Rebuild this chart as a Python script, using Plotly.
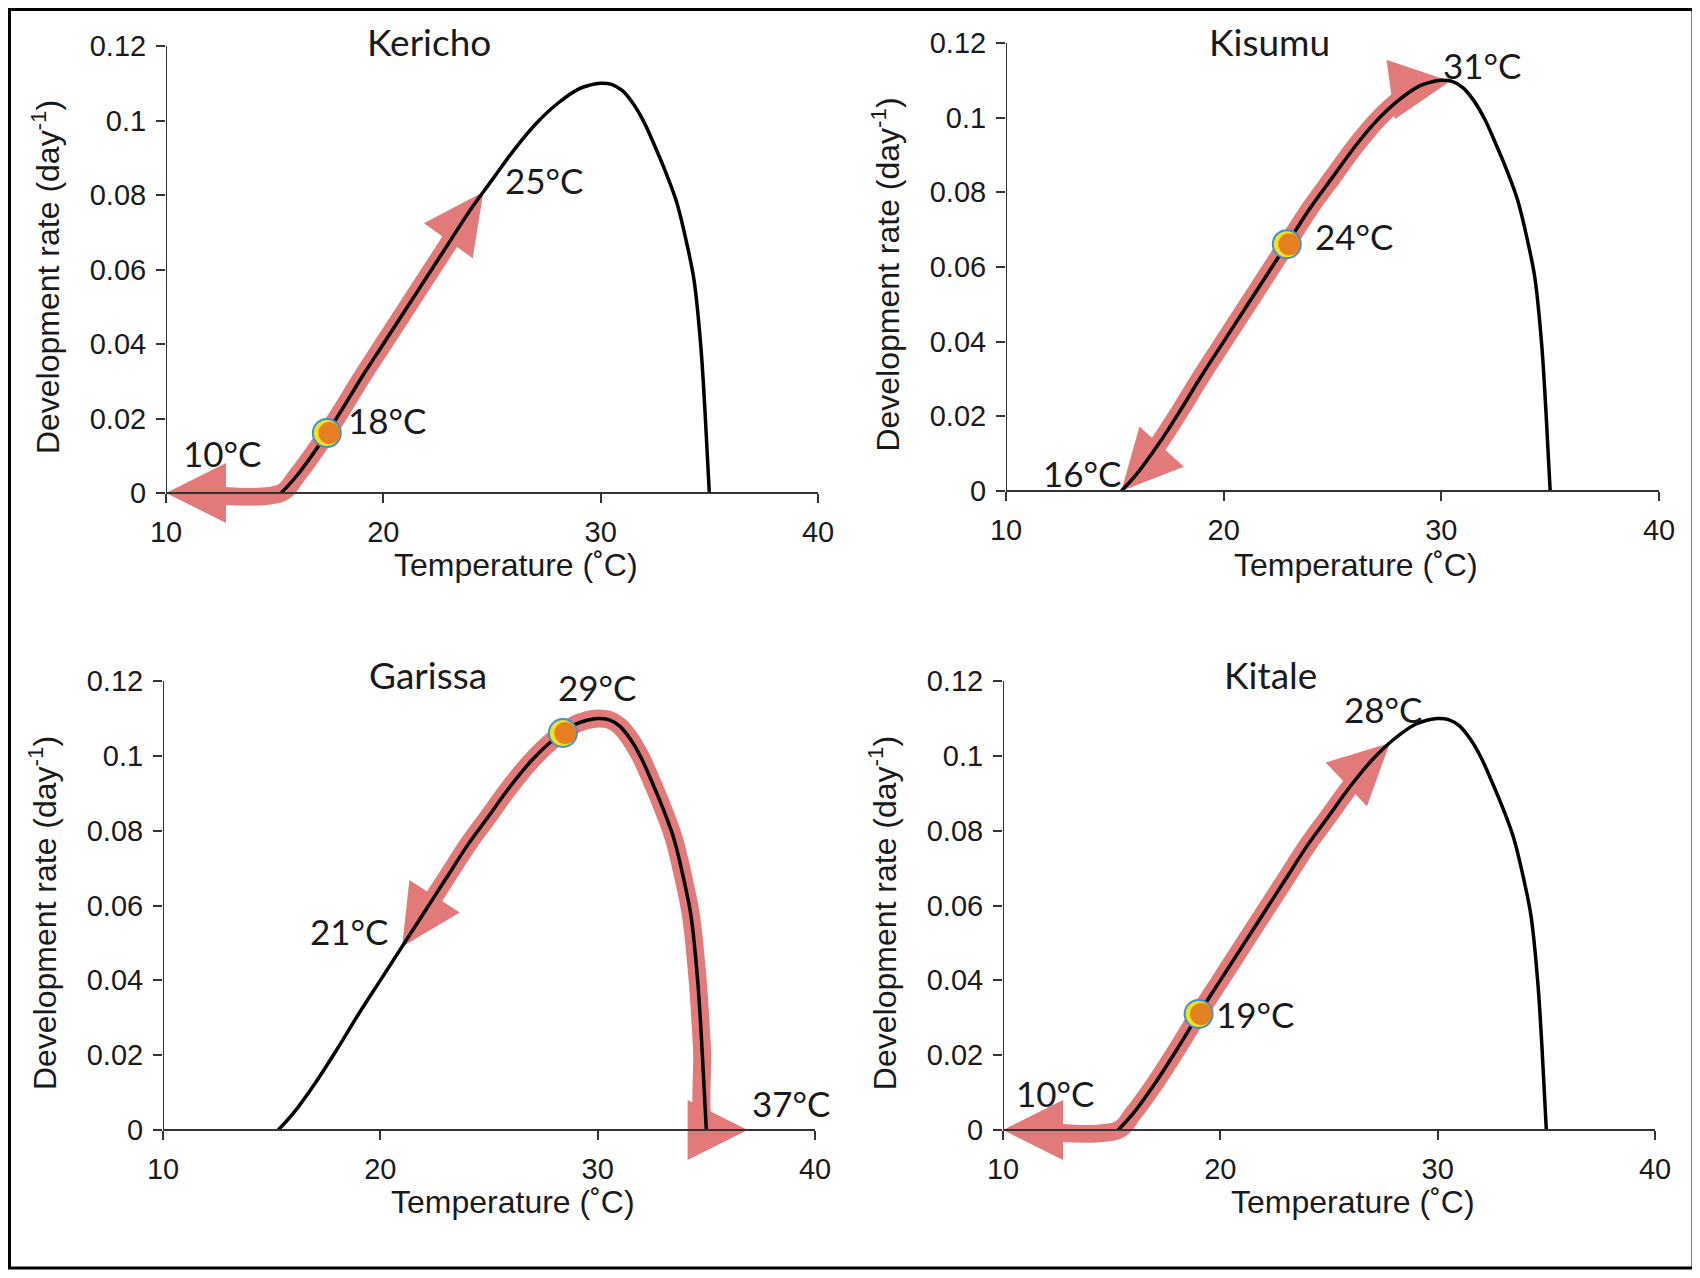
import numpy as np
import plotly.graph_objects as go

# development rate curve
temp = [15.3, 16, 17, 18, 19, 20, 21, 22, 23, 24, 25, 26, 27, 28, 29, 29.5,
        30, 30.5, 31, 31.5, 32, 32.5, 33, 33.5, 34, 34.3, 34.6, 34.8, 35]
rate = [0, 0.0045, 0.0125, 0.0215, 0.031, 0.040, 0.049, 0.058, 0.067, 0.076,
        0.084, 0.092, 0.099, 0.1045, 0.1085, 0.1095, 0.110, 0.1097, 0.108,
        0.1045, 0.0995, 0.093, 0.086, 0.078, 0.066, 0.057, 0.040, 0.022, 0]

sites = ['Kericho', 'Kisumu', 'Garissa', 'Kitale']
t_min = [10, 16, 21, 10]
t_mean = [18, 24, 29, 19]
t_max = [25, 31, 37, 28]

# hand drawn arrows: tip temperatures and where the shaft ends
tip_lo = [10.0, 15.3, 21.0, 10.0]
tip_hi = [24.6, 30.4, 36.9, 27.8]
shaft_lo = [11.0, 16.0, 21.6, 11.0]
shaft_hi = [23.9, 29.1, 35.8, 27.1]
dot_temp = [17.4, 22.9, 28.4, 19.0]

xticks = [10, 20, 30, 40]
yticks = [0, 0.02, 0.04, 0.06, 0.08, 0.1, 0.12]
yticktext = ['0', '0.02', '0.04', '0.06', '0.08', '0.1', '0.12']

W, H = 1700, 1278
OFF = 8  # page margin around the plot div
# panel placement in page pixels: left, right, y of zero, y of 0.12,
# site title y, axis title y
panels = [(166, 818, 493, 46, 41, 565), (1006, 1659, 491, 43, 41, 565),
          (163, 815, 1130, 681, 674, 1202), (1003, 1655, 1130, 681, 674, 1202)]
# label placement (data units): title x, min, mean, max
label_pos = [
    dict(title=22.1, lo=(12.6, 0.0108), mean=(20.2, 0.0195), hi=(27.4, 0.084)),
    dict(title=22.1, lo=(13.5, 0.0047), mean=(26.0, 0.0683), hi=(31.9, 0.114)),
    dict(title=22.2, lo=(18.6, 0.0533), mean=(30.0, 0.1183), hi=(38.9, 0.0072)),
    dict(title=22.3, lo=(12.4, 0.0099), mean=(21.6, 0.031), hi=(27.5, 0.1125)),
]
XTITLE_T = 26.1

BAND = '#E27A7A'
AXIS = '#333333'
TICKFONT = dict(family='Liberation Sans, Arial', size=29, color='#1a1a1a')
TITLEFONT = dict(family='Liberation Sans, Arial', size=32, color='#1a1a1a')
LABELFONT = dict(family='Lato, Open Sans', size=35, color='#1a1a1a')
SITEFONT = dict(family='Lato, Open Sans', size=37, color='#1a1a1a')
YPAD = 0.004


def px_x(p):
    return (p - OFF) / W


def px_y(p):
    return 1 - (p - OFF) / H


fig = go.Figure()
layout = {}
annotations = []
shapes = []

for i, site in enumerate(sites):
    sfx = '' if i == 0 else str(i + 1)
    xa, ya = 'x' + sfx, 'y' + sfx
    left, right, y0px, y12px, title_px, xtitle_px = panels[i]
    pxper = (y0px - y12px) / 0.12
    bottom_px = y0px + YPAD * pxper
    deg_px = (right - left) / 30.0

    layout['xaxis' + sfx] = dict(
        domain=[px_x(left), px_x(right)], range=[10, 40], anchor='free',
        position=px_y(y0px), tickvals=xticks, ticks='outside', ticklen=9,
        tickwidth=2, tickcolor=AXIS, showline=True, linecolor=AXIS,
        linewidth=2, showgrid=False, zeroline=False, tickfont=TICKFONT,
        ticklabelstandoff=4, automargin=False)
    layout['yaxis' + sfx] = dict(
        domain=[px_y(bottom_px), px_y(y12px)], range=[-YPAD, 0.12],
        anchor=xa, tickvals=yticks, ticktext=yticktext, ticks='outside',
        ticklen=9, tickwidth=2, tickcolor=AXIS, showline=False,
        showgrid=False, zeroline=False, tickfont=TICKFONT,
        ticklabelstandoff=4, automargin=False,
        title=dict(text='Development rate (day<sup>-1</sup>)', font=TITLEFONT,
                   standoff=20))
    # y axis line only from 0 up to 0.12
    shapes.append(dict(type='line', xref=xa, yref=ya, x0=10, x1=10, y0=0,
                       y1=0.12, line=dict(color=AXIS, width=2)))

    # red band following the curve between the two shaft ends
    lo, hi = shaft_lo[i], shaft_hi[i]
    bx = [lo] + [t for t in temp if lo < t < hi] + [hi]
    by = list(np.interp(bx, temp, rate))
    fig.add_trace(go.Scatter(
        x=bx, y=by, xaxis=xa, yaxis=ya, mode='lines', hoverinfo='skip',
        line=dict(color=BAND, width=18, shape='spline', smoothing=1.0)))
    # arrow heads, pointing from shaft end to tip
    for s, t in [(lo, tip_lo[i]), (hi, tip_hi[i])]:
        fig.add_trace(go.Scatter(
            x=[s, t], y=list(np.interp([s, t], temp, rate)), xaxis=xa,
            yaxis=ya, mode='markers', cliponaxis=False, hoverinfo='skip',
            marker=dict(symbol='arrow-up', size=[0, 60], color=BAND,
                        opacity=1, angleref='previous',
                        line=dict(width=0))))

    fig.add_trace(go.Scatter(
        x=temp, y=rate, xaxis=xa, yaxis=ya, mode='lines',
        line=dict(color='black', width=3.5, shape='spline', smoothing=1.0)))

    # dot: yellow disc with an orange disc slightly to the right on top
    dy = float(np.interp(dot_temp[i], temp, rate))
    fig.add_trace(go.Scatter(
        x=[dot_temp[i]], y=[dy], xaxis=xa, yaxis=ya, mode='markers',
        cliponaxis=False,
        marker=dict(size=28, color='#F2E21B',
                    line=dict(color='#3F8FD2', width=2))))
    fig.add_trace(go.Scatter(
        x=[dot_temp[i] + 2.5 / deg_px], y=[dy], xaxis=xa, yaxis=ya,
        mode='markers', cliponaxis=False,
        marker=dict(size=22, color='#E67E22', line=dict(width=0))))

    pos = label_pos[i]
    annotations.append(dict(xref=xa, yref='paper', x=pos['title'],
                            y=px_y(title_px), xanchor='center',
                            yanchor='middle', text=site, showarrow=False,
                            font=SITEFONT))
    annotations.append(dict(xref=xa, yref='paper', x=XTITLE_T,
                            y=px_y(xtitle_px), xanchor='center',
                            yanchor='middle', text='Temperature (˚C)',
                            showarrow=False, font=TITLEFONT))
    for key, val in [('lo', t_min[i]), ('mean', t_mean[i]), ('hi', t_max[i])]:
        annotations.append(dict(xref=xa, yref=ya, x=pos[key][0], y=pos[key][1],
                                xanchor='center', yanchor='middle',
                                text='%d°C' % val, showarrow=False,
                                font=LABELFONT))

# outer frame
shapes.append(dict(type='rect', xref='paper', yref='paper', x0=1.5 / W,
                   x1=px_x(1693), y0=px_y(1268), y1=1 - 1.5 / H,
                   line=dict(color='black', width=3)))

fig.update_layout(width=W, height=H, margin=dict(l=0, r=0, t=0, b=0),
                  paper_bgcolor='white', plot_bgcolor='white',
                  showlegend=False, annotations=annotations, shapes=shapes,
                  **layout)

fig.write_html('out.html')
